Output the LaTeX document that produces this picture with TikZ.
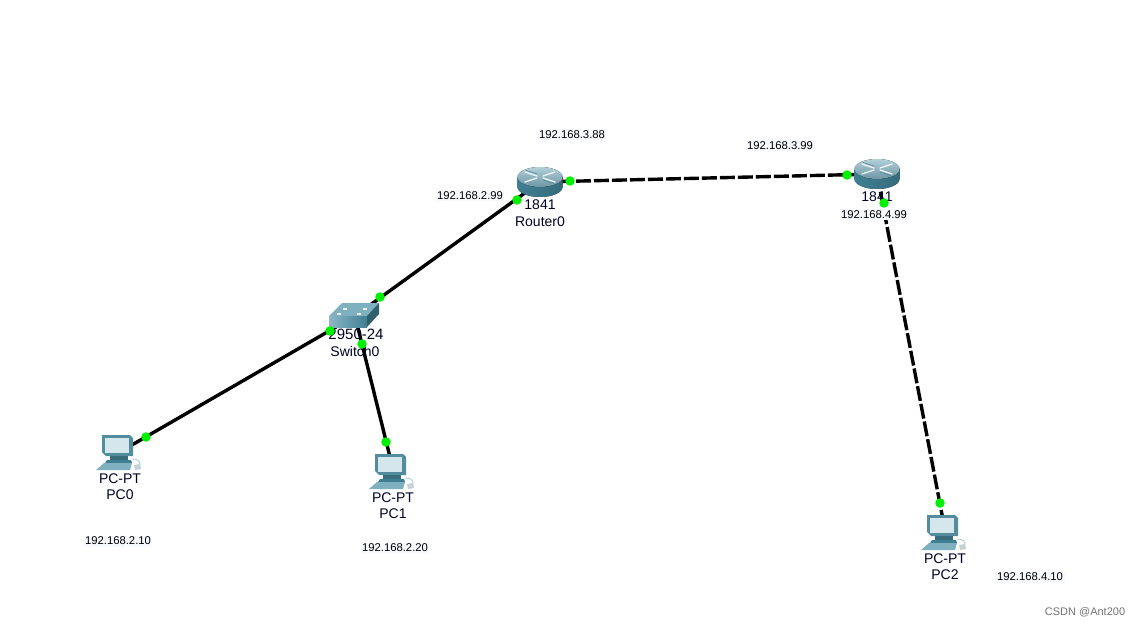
\documentclass[tikz,border=0pt]{standalone}
\usepackage{fontspec}
\setmainfont{Liberation Sans}
\definecolor{lightgreen}{HTML}{00F000}
\definecolor{tealdark}{HTML}{3F7F92}
\definecolor{tealmid}{HTML}{7FB0C0}
\definecolor{teallight}{HTML}{D5E6EC}
\definecolor{labelbg}{HTML}{F8F9FF}
\tikzset{
  link/.style={line width=3.4pt,black},
  dashlink/.style={link,dash pattern=on 15pt off 3pt},
  light/.style={circle,fill=lightgreen,inner sep=0pt,minimum size=9.5pt},
  devname/.style={font=\fontsize{14}{14}\selectfont,inner sep=0pt,text=black!85!blue},
  iplabel/.style={font=\fontsize{11.3}{12}\selectfont,inner sep=1.5pt,fill=labelbg},
  routericon/.pic={
    \fill[left color=tealdark,middle color=teallight!80!white,right color=tealdark!85!black]
      (-22.5,-5) -- (-22.5,5) arc[start angle=180,end angle=0,x radius=22.5,y radius=10]
      -- (22.5,-5) -- cycle;
    \fill[top color=tealmid!60!white,bottom color=tealmid!85!black] (0,-5) ellipse[x radius=22.5,y radius=10];
    \foreach \sx/\sy in {-1/-1,1/-1,-1/1,1/1}
      \draw[white!85!tealmid,line width=1.4pt,line cap=round] (\sx*3,-5+\sy*1) -- (\sx*15,-5+\sy*5);
    \foreach \sx/\sy in {-1/-1,1/1}
      \draw[tealdark,line width=.5pt] (\sx*3,-5+\sy*3) -- (\sx*14,-5+\sy*6.5);
  },
  switchicon/.pic={
    \fill[tealmid] (-26,-4) -- (-13,-17) -- (24,-17) -- (12,-4) -- cycle;
    \fill[left color=tealmid!90!white,right color=tealdark] (-26,-4) rectangle (12,7);
    \fill[tealdark!75!black] (12,-4) -- (24,-17) -- (24,-6) -- (12,7) -- cycle;
    \foreach \px/\py in {-12/-12,8/-12,-18/-7,2/-7}
      \fill[white!85!tealmid] (\px,\py) rectangle ++(4,1.5);
  },
  pcicon/.pic={
    % monitor first, then keyboard and mouse
    \fill[tealdark!90!white] (0,0) -- (28,0) -- (31,3) -- (31,21) -- (4,21) -- (0,17) -- cycle;
    \fill[teallight] (3,3) rectangle (27,18);
    \fill[tealdark!85!black] (8,21) rectangle (26,25);
    \fill[tealdark] (5,25) -- (29,25) -- (30,28) -- (3,28) -- cycle;
    \fill[tealmid] (-6,35) -- (2,28) -- (30,28) -- (28,35) -- cycle;
    \draw[tealmid!70!white,line width=.8pt] (30,24) .. controls (36,24) and (38,26) .. (38,30);
    \fill[teallight!80!gray] (32,30) -- (38,29) -- (39,34) -- (33,35) -- cycle;
  },
}
\begin{document}
\begin{tikzpicture}[x=1pt,y=-1pt]
  \useasboundingbox (0,0) rectangle (1148,628);
  \coordinate (Router0) at (540,182);
  \coordinate (Router1) at (877,174);
  \coordinate (Switch0) at (355,316);
  \coordinate (PC0) at (118,453);
  \coordinate (PC1) at (392,465);
  \coordinate (PC2) at (944,525);

  \draw[link] (Router0) -- (Switch0);
  \draw[link] (Switch0) -- (PC0);
  \draw[link] (Switch0) -- (PC1);
  \draw[dashlink] (Router0) -- (Router1);
  \draw[dashlink] (Router1) -- (PC2);

  \pic at (540,182) {routericon};
  \pic at (877,174) {routericon};
  \pic at (355,320) {switchicon};
  \pic at (102,435) {pcicon};
  \pic at (375,454) {pcicon};
  \pic at (927,515) {pcicon};

  \node[devname] (model0) at (540,205) {1841};
  \node[devname] (name0) at (540,222) {Router0};
  \node[devname] (model1) at (877,197) {1841};
  \node[devname,font=\fontsize{15}{15}\selectfont] (model2) at (356,334) {2950-24};
  \node[devname] (name2) at (355,351) {Switch0};
  \foreach \id/\x/\y in {0/120/479,1/393/498,2/945/559}{
    \node[devname] (type\id) at (\x,\y) {PC-PT};
    \node[devname] (pc\id) at (\x,\y+16) {PC\id};
  }

  \node[iplabel] (ip388) at (572,135) {192.168.3.88};
  \node[iplabel] (ip399) at (780,146) {192.168.3.99};
  \node[iplabel] (ip299) at (470,196) {192.168.2.99};
  \node[iplabel] (ip499) at (874,215) {192.168.4.99};
  \node[iplabel] (ip210) at (118,541) {192.168.2.10};
  \node[iplabel] (ip220) at (395,548) {192.168.2.20};
  \node[iplabel] (ip410) at (1030,577) {192.168.4.10};

  \foreach \x/\y in {517/200,570/181,847/175,884/203,380/297,330/331,362/344,146/437,386/442,940/503}
    \node[light] at (\x,\y) {};

  \node[font=\fontsize{11}{12}\selectfont,text=black!55,inner sep=0pt] (mark) at (1085,612) {CSDN @Ant200};
\end{tikzpicture}
\end{document}
